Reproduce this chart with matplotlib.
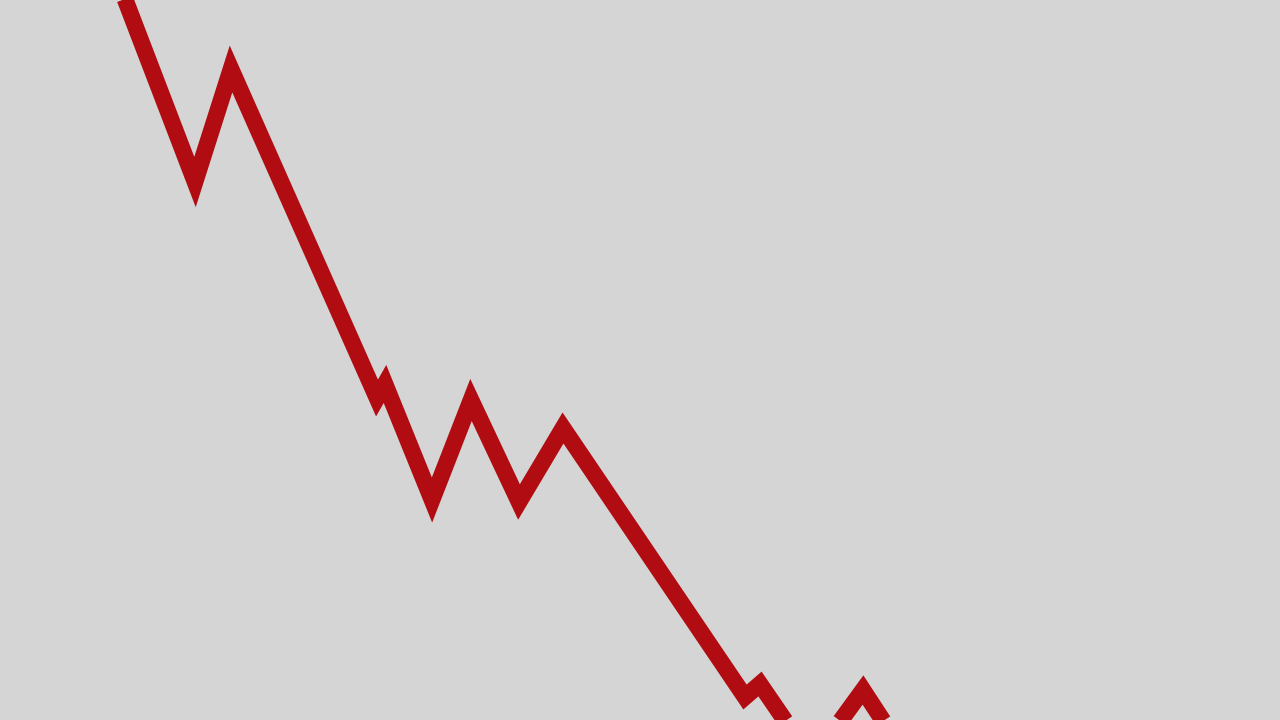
import matplotlib.pyplot as plt
import numpy as np

# points of the falling line (x position, level, 0 = bottom edge)
x = [110, 195, 231, 377, 385, 432, 471, 519, 563, 745, 760, 812, 863, 925]
level = [760, 538, 651, 322, 336, 220, 320, 218, 292, 23, 36, -40, 30, -65]

line_color = '#b00c11'
bg_color = '#d5d5d5'

fig = plt.figure(figsize=(12.8, 7.2), dpi=100)
fig.patch.set_facecolor(bg_color)
ax = fig.add_axes([0, 0, 1, 1])
ax.set_facecolor(bg_color)

ax.plot(x, level, color=line_color, linewidth=12, solid_joinstyle='miter', solid_capstyle='butt')

ax.set_xlim(0, 1280)
ax.set_ylim(0, 720)
ax.axis('off')

plt.savefig('out.png', dpi=100, facecolor=bg_color)
